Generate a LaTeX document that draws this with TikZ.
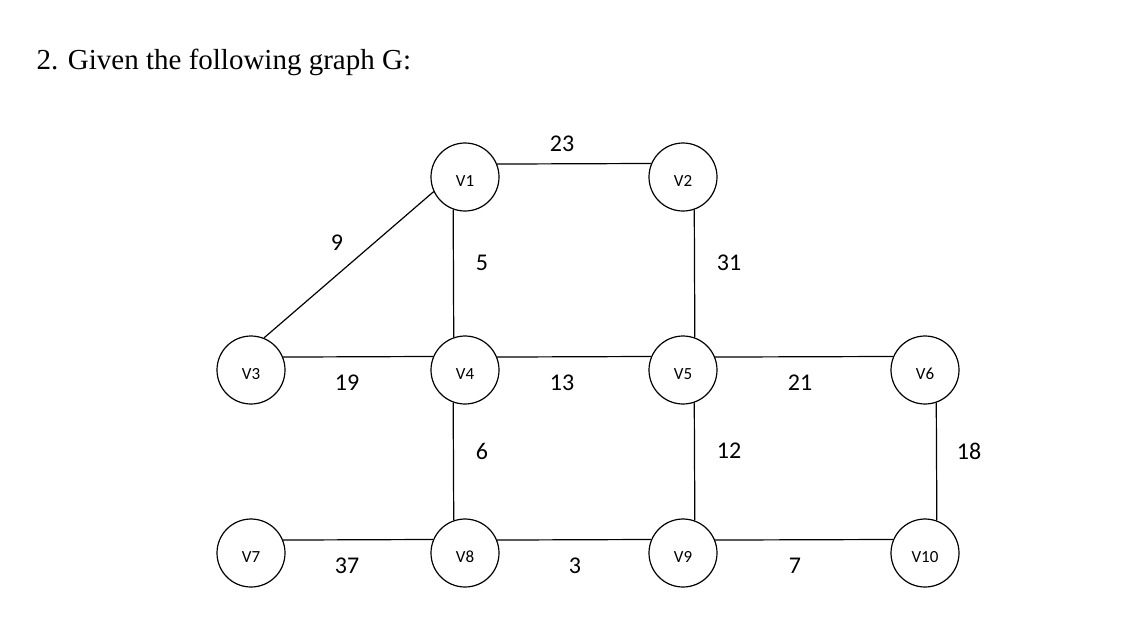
\documentclass[tikz,border=0pt]{standalone}
\usepackage{fontspec}
\setmainfont{Carlito}
\newfontfamily\titlefont{Liberation Serif}
\begin{document}
\begin{tikzpicture}[x=1pt,y=-1pt,
  vtx/.style={circle,draw,line width=1.2pt,minimum size=68pt,inner sep=0pt,font=\fontsize{17}{17}\selectfont,text depth=0pt},
  edge/.style={line width=1.2pt},
  wlab/.style={font=\fontsize{24}{24}\selectfont}]
\useasboundingbox (0,0) rectangle (1148,622);
\node[anchor=west,font=\titlefont\fontsize{29}{29}\selectfont] (title) at (33,62) {2. Given the following graph G:};
\foreach \n/\x/\y in {v1/465/177,v2/683/177,v3/251/370,v4/465/370,v5/683/370,v6/925/370,v7/251/553,v8/465/553,v9/683/553,v10/925/553}{
  \coordinate (\n c) at (\x,\y);}
\node[vtx] (v1) at (v1c) {\raisebox{-8pt}{V1}};
\node[vtx] (v2) at (v2c) {\raisebox{-8pt}{V2}};
\node[vtx] (v3) at (v3c) {\raisebox{-8pt}{V3}};
\node[vtx] (v4) at (v4c) {\raisebox{-8pt}{V4}};
\node[vtx] (v5) at (v5c) {\raisebox{-8pt}{V5}};
\node[vtx] (v6) at (v6c) {\raisebox{-8pt}{V6}};
\node[vtx] (v7) at (v7c) {\raisebox{-8pt}{V7}};
\node[vtx] (v8) at (v8c) {\raisebox{-8pt}{V8}};
\node[vtx] (v9) at (v9c) {\raisebox{-8pt}{V9}};
\node[vtx] (v10) at (v10c) {\raisebox{-8pt}{V10}};
% horizontal edges
\draw[edge] (v1.22.5) -- (v2.157.5);
\draw[edge] (v3.22.5) -- (v4.157.5);
\draw[edge] (v4.22.5) -- (v5.157.5);
\draw[edge] (v5.22.5) -- (v6.157.5);
\draw[edge] (v7.22.5) -- (v8.157.5);
\draw[edge] (v8.22.5) -- (v9.157.5);
\draw[edge] (v9.22.5) -- (v10.157.5);
% vertical edges
\draw[edge] (v1.250.7) -- (v4.109.3);
\draw[edge] (v4.250.7) -- (v8.109.3);
\draw[edge] (v2.289.3) -- (v5.70.7);
\draw[edge] (v5.289.3) -- (v9.70.7);
\draw[edge] (v6.289.3) -- (v10.70.7);
% diagonal
\draw[edge] (v3.68) -- (v1.205);
% weights
\node[wlab] (w23) at (562,144) {23};
\node[wlab] (w9) at (337,243) {9};
\node[wlab] (w5) at (482,263) {5};
\node[wlab] (w31) at (729,263) {31};
\node[wlab] (w19) at (347,383) {19};
\node[wlab] (w13) at (562,383) {13};
\node[wlab] (w21) at (800,383) {21};
\node[wlab] (w6) at (482,451) {6};
\node[wlab] (w12) at (729,451) {12};
\node[wlab] (w18) at (969,451) {18};
\node[wlab] (w37) at (347,566) {37};
\node[wlab] (w3) at (575,566) {3};
\node[wlab] (w7) at (795,566) {7};
\end{tikzpicture}
\end{document}
